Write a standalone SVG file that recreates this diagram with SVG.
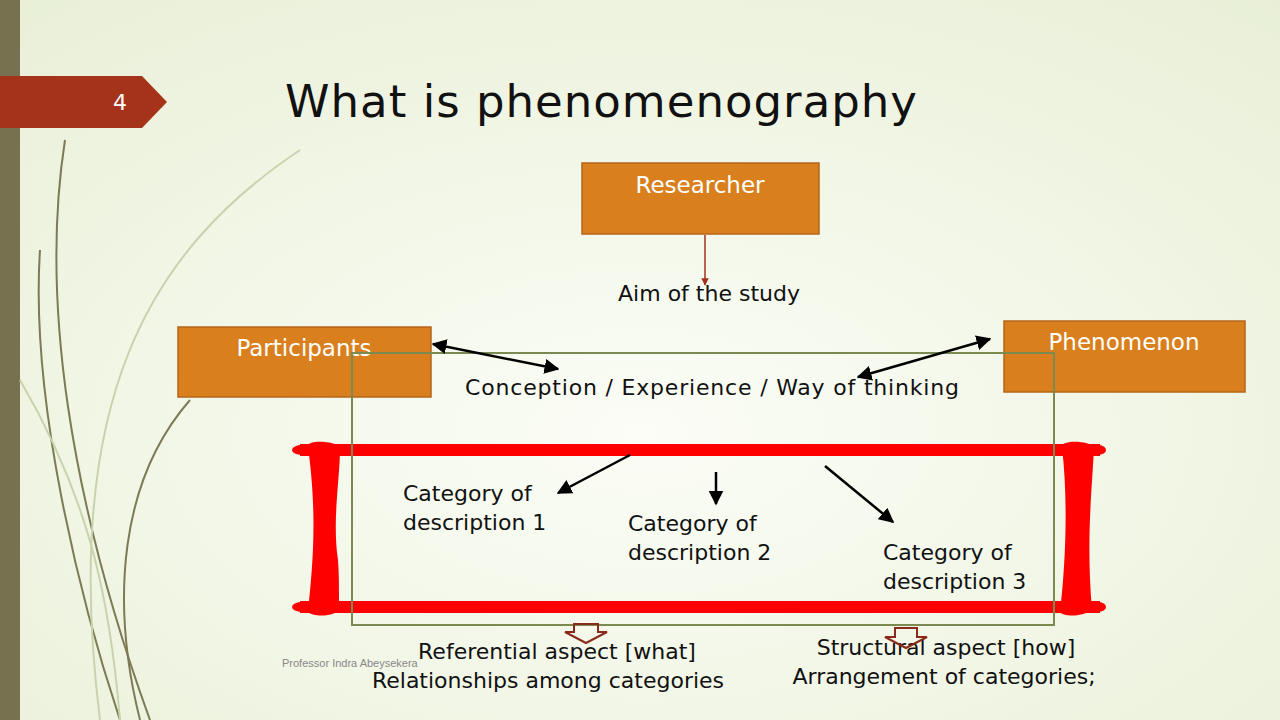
<svg xmlns="http://www.w3.org/2000/svg" width="1280" height="720" viewBox="0 0 1280 720">
<defs>
<radialGradient id="bg" cx="0.5" cy="0.6" r="0.8"><stop offset="0" stop-color="#fbfdf6"/><stop offset="1" stop-color="#e8efd6"/></radialGradient>
<marker id="ah" viewBox="0 0 10 10" refX="9" refY="5" markerWidth="6" markerHeight="6" orient="auto-start-reverse"><path d="M0,0 L10,5 L0,10 z" fill="#000"/></marker>
<marker id="ahr" viewBox="0 0 10 10" refX="9" refY="5" markerWidth="5" markerHeight="5" orient="auto"><path d="M0,0 L10,5 L0,10 z" fill="#a0301c"/></marker>
<style>
.box{fill:#d97f1e;stroke:#b4651a;stroke-width:1.5}
.bt{font-family:"DejaVu Sans","Liberation Sans",sans-serif;font-size:23px;fill:#fff}
.t{font-family:"DejaVu Sans","Liberation Sans",sans-serif;font-size:22px;fill:#111}
.c{stroke:#000;stroke-width:2.5;fill:none}
.da{fill:none;stroke:#8a2a1a;stroke-width:2}
</style>
</defs>
<rect width="1280" height="720" fill="url(#bg)"/>
<rect x="0" y="0" width="20" height="720" fill="#78714f"/>
<g fill="none" stroke="#7d7a55" stroke-width="2">
<path d="M65,140 C40,300 70,500 150,720"/>
<path d="M40,250 C30,400 80,600 120,720"/>
<path d="M300,150 C150,250 60,400 100,720" stroke="#c8d3ae"/>
<path d="M20,380 C90,500 110,600 120,720" stroke="#c8d3ae"/>
<path d="M190,400 C120,480 110,600 140,720"/>
</g>
<path d="M0,76 H142 L167,102 L142,128 H0 z" fill="#a53319"/>
<text x="120" y="110" font-family="DejaVu Sans, Liberation Sans, sans-serif" font-size="22" fill="#fff" text-anchor="middle">4</text>
<text x="285" y="117" font-family="DejaVu Sans, Liberation Sans, sans-serif" font-size="45" fill="#111" textLength="632">What is phenomenography</text>
<g id="scroll" fill="#f00">
<rect x="300" y="444" width="800" height="12"/>
<rect x="300" y="601" width="800" height="12"/>
<path d="M308,447 C305,440 335,440 340,448 C340,480 332,520 338,560 C340,590 338,605 340,610 C330,618 312,616 308,612 C312,570 318,520 308,447 z"/>
<path d="M1062,447 C1060,440 1090,440 1094,448 C1092,490 1086,540 1092,610 C1080,618 1062,616 1060,612 C1066,560 1068,500 1062,447 z"/>
<ellipse cx="302" cy="450" rx="10" ry="5"/><ellipse cx="302" cy="607" rx="10" ry="5"/>
<ellipse cx="1098" cy="450" rx="8" ry="5"/><ellipse cx="1098" cy="607" rx="8" ry="5"/>
</g>
<g id="researcher"><rect class="box" x="582" y="163" width="237" height="71"/><text class="bt" x="700" y="193" text-anchor="middle">Researcher</text></g>
<g id="participants"><rect class="box" x="178" y="327" width="253" height="70"/><text class="bt" x="304" y="356" text-anchor="middle">Participants</text></g>
<g id="phenomenon"><rect class="box" x="1004" y="321" width="241" height="71"/><text class="bt" x="1124" y="350" text-anchor="middle">Phenomenon</text></g>
<g id="frame"><rect x="352" y="353" width="702" height="272" fill="none" stroke="#7a8a50" stroke-width="2"/></g>
<g id="labels">
<text class="t" x="709" y="301" text-anchor="middle">Aim of the study</text>
<text class="t" x="712" y="395" text-anchor="middle" textLength="494">Conception / Experience / Way of thinking</text>
<text class="t" x="403" y="501">Category of</text><text class="t" x="403" y="530">description 1</text>
<text class="t" x="628" y="531">Category of</text><text class="t" x="628" y="560">description 2</text>
<text class="t" x="883" y="560">Category of</text><text class="t" x="883" y="589">description 3</text>
<text class="t" x="557" y="659" text-anchor="middle">Referential aspect [what]</text>
<text class="t" x="548" y="688" text-anchor="middle">Relationships among categories</text>
<text class="t" x="946" y="655" text-anchor="middle">Structural aspect [how]</text>
<text class="t" x="944" y="684" text-anchor="middle">Arrangement of categories;</text>
<text x="282" y="667" font-family="Liberation Sans, sans-serif" font-size="11" fill="#888">Professor Indra Abeysekera</text>
</g>
<g id="connectors">
<line x1="705" y1="235" x2="705" y2="285" stroke="#a0301c" stroke-width="1.5" marker-end="url(#ahr)"/>
<line class="c" x1="433" y1="344" x2="558" y2="369" stroke-width="1.5" marker-start="url(#ah)" marker-end="url(#ah)"/>
<line class="c" x1="990" y1="339" x2="858" y2="377" stroke-width="1.5" marker-start="url(#ah)" marker-end="url(#ah)"/>
<line class="c" x1="630" y1="455" x2="558" y2="493" marker-end="url(#ah)"/>
<line class="c" x1="716" y1="472" x2="716" y2="504" marker-end="url(#ah)"/>
<line class="c" x1="825" y1="466" x2="893" y2="522" marker-end="url(#ah)"/>
<path class="da" d="M574,624 H598 V632 H607 L586,643 L565,632 H574 z"/>
<path class="da" d="M895,628 H917 V637 H927 L906,648 L885,637 H895 z"/>
</g>
</svg>
